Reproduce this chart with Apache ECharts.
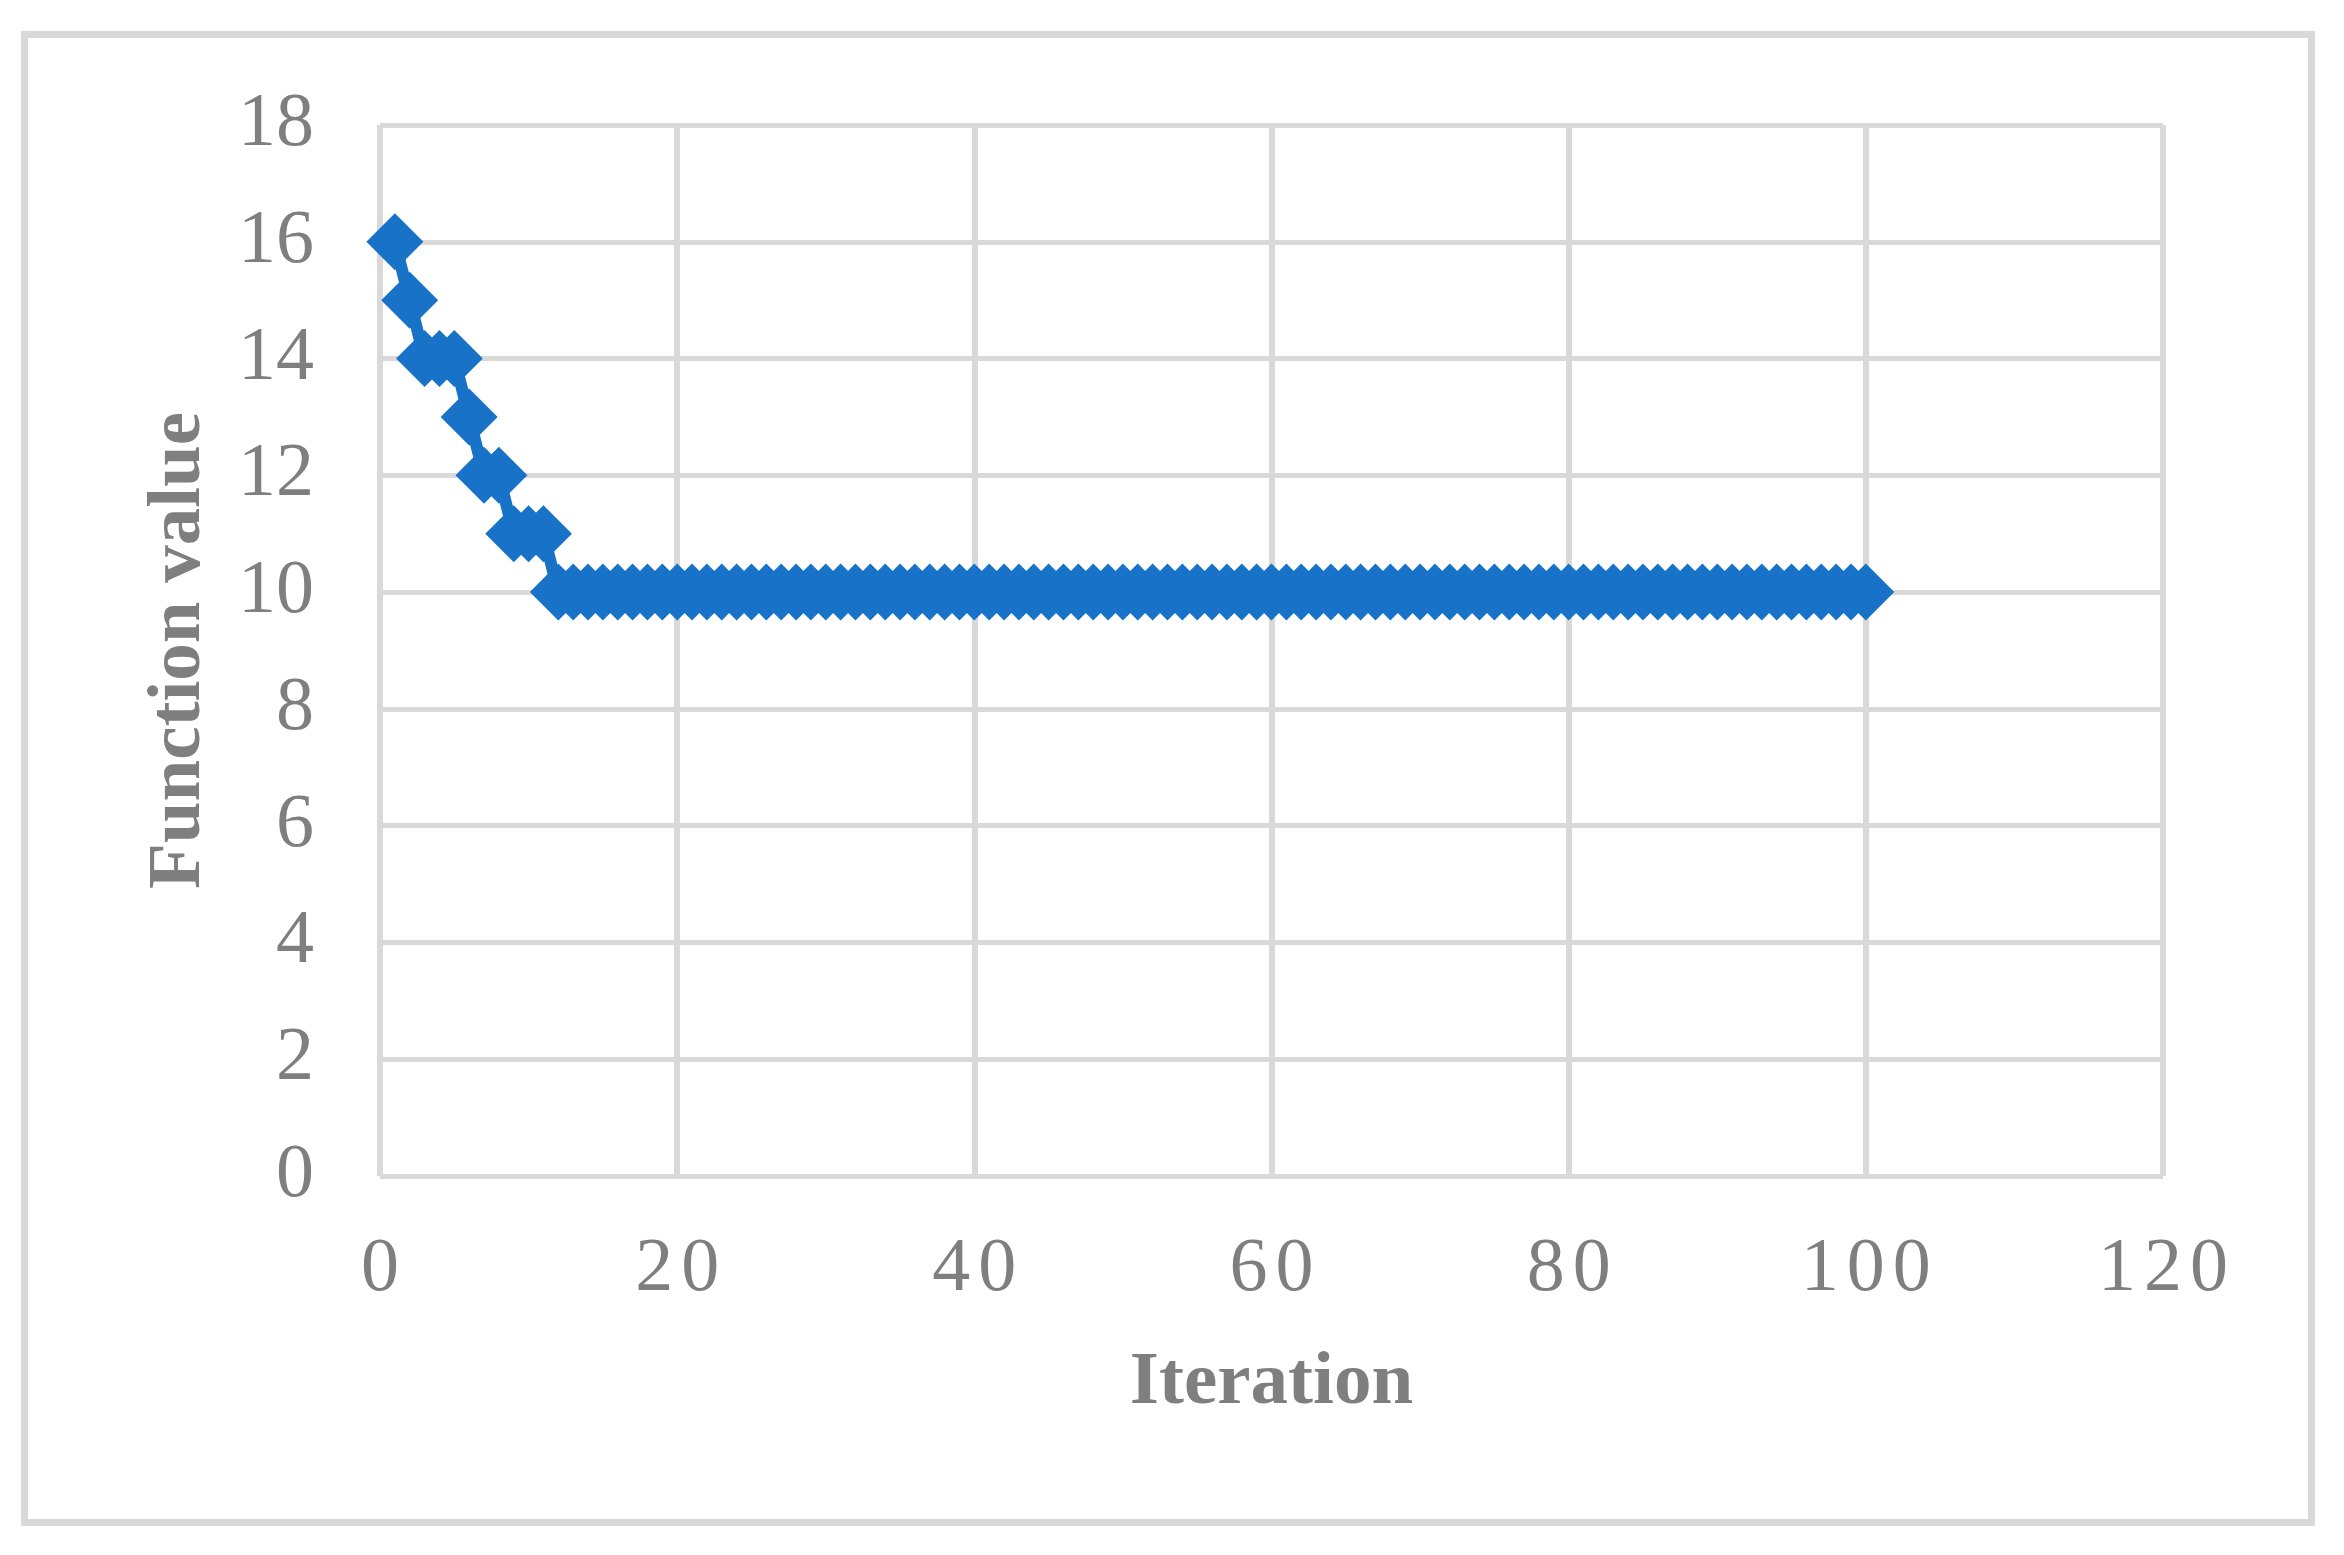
<!DOCTYPE html>
<html>
<head>
<meta charset="utf-8">
<script src="https://cdn.jsdelivr.net/npm/echarts@6/dist/echarts.min.js"></script>
<style>
  html, body { margin: 0; padding: 0; background: #ffffff; }
  #frame { position: absolute; left: 21px; top: 31px; width: 2280px; height: 1481px; border: 7px solid #d9d9d9; }
  #chart { position: absolute; left: 0; top: 0; width: 2344px; height: 1555px; }
</style>
</head>
<body>
<div id="frame"></div>
<div id="chart"></div>
<script>
// Iteration numbers and function values
const iterations = [];
for (let i = 1; i <= 100; i++) iterations.push(i);
const earlyValues = [16, 15, 14, 14, 14, 13, 12, 12, 11, 11, 11];
const plateauValue = 10; // iterations 12..100
const functionValues = earlyValues.concat(new Array(100 - earlyValues.length).fill(plateauValue));

const xTicks = [0, 20, 40, 60, 80, 100, 120];
const yTicks = [0, 2, 4, 6, 8, 10, 12, 14, 16, 18];

const seriesData = iterations.map((it, i) => [it, functionValues[i]]);

const gray = '#7f7f7f';
const gridColor = '#d9d9d9';
const fontFamily = '"Liberation Serif", "Times New Roman", serif';

const chart = echarts.init(document.getElementById('chart'), null, { renderer: 'canvas' });
chart.setOption({
  backgroundColor: 'transparent',
  animation: false,
  grid: { left: 380, right: 181, top: 125, bottom: 379, outerBoundsMode: 'none', containLabel: false },
  xAxis: {
    type: 'value',
    min: xTicks[0], max: xTicks[xTicks.length - 1], interval: 20,
    name: 'Iteration',
    nameLocation: 'middle',
    nameGap: 170,
    nameTextStyle: { fontFamily, fontSize: 75, fontWeight: 'bold', color: gray },
    axisLine: { show: false },
    axisTick: { show: false },
    axisLabel: {
      margin: 56,
      formatter: v => String(v).split('').map(c => '{d|' + c + '}').join(''),
      rich: { d: { fontFamily, fontSize: 76, color: gray, padding: [0, 4, 0, 4] } }
    },
    splitLine: { show: true, lineStyle: { color: gridColor, width: 6 } }
  },
  yAxis: {
    type: 'value',
    min: yTicks[0], max: yTicks[yTicks.length - 1], interval: 2,
    name: 'Function value',
    nameLocation: 'middle',
    nameGap: 163,
    nameTextStyle: { fontFamily, fontSize: 75, fontWeight: 'bold', color: gray },
    axisLine: { show: false },
    axisTick: { show: false },
    axisLabel: { margin: 66, fontFamily, fontSize: 76, color: gray },
    splitLine: { show: true, lineStyle: { color: gridColor, width: 5 } }
  },
  series: [{
    type: 'line',
    data: seriesData,
    symbol: 'diamond',
    symbolSize: 57,
    showSymbol: true,
    lineStyle: { color: '#1873c8', width: 12 },
    itemStyle: { color: '#1873c8' }
  }]
});
</script>
</body>
</html>
